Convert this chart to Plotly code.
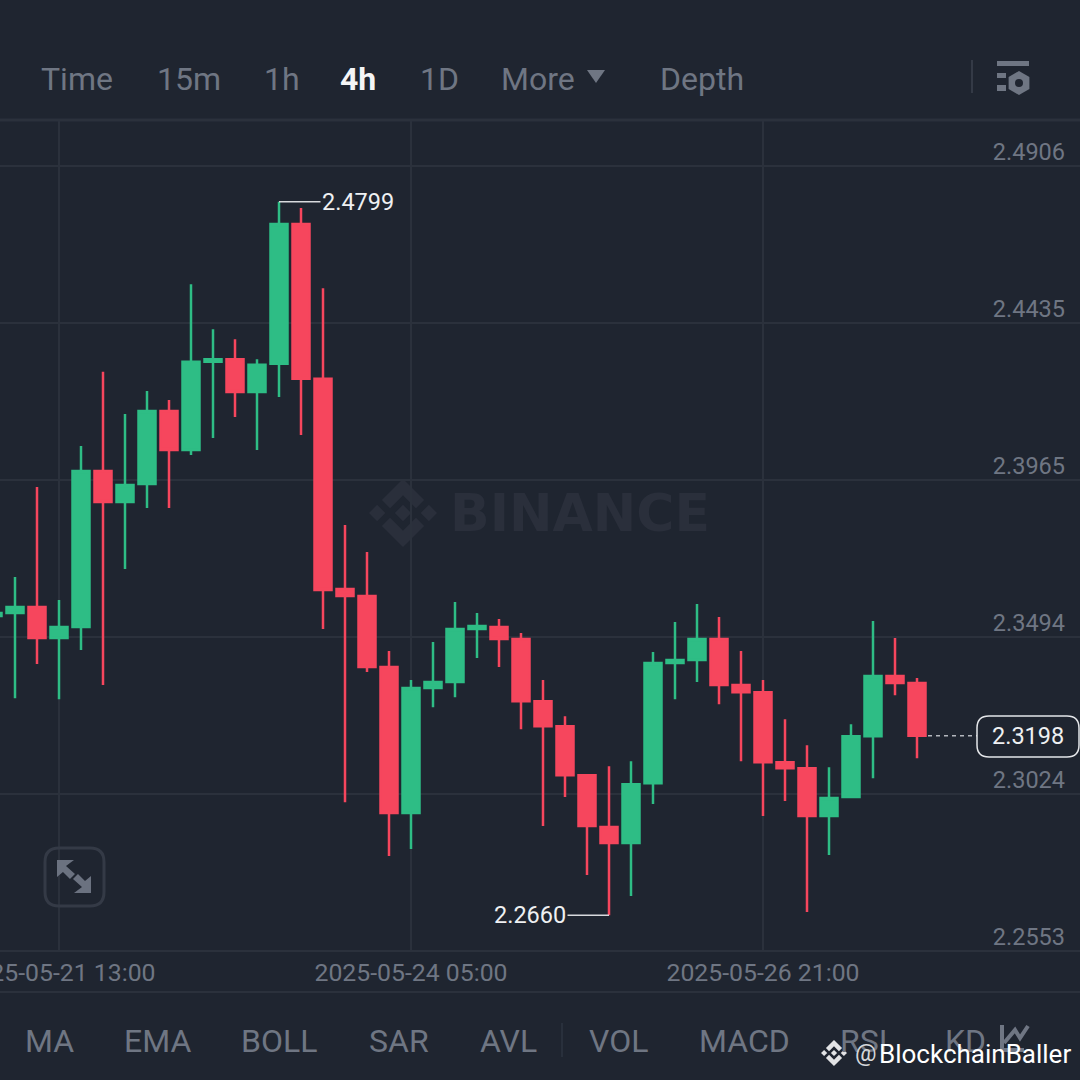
import math
import pandas as pd
import plotly.graph_objects as go

BG = "#1f2530"
GRID = "#2b313c"
MUTED = "#6f7683"
GREEN = "#2ebd85"
RED = "#f6465d"
WATER = "#2a2f3b"
FONT = "Roboto"

dates = pd.date_range("2025-05-21 01:00", periods=43, freq="4h")

opens = [2.3557, 2.3566, 2.3584, 2.3491, 2.3524, 2.3992, 2.3899, 2.3953, 2.4172, 2.4055, 2.4319,
         2.4327, 2.4229, 2.4313, 2.4732, 2.4268, 2.3638, 2.3617, 2.3404, 2.2967, 2.3341, 2.3359,
         2.3518, 2.3524, 2.3488, 2.3302, 2.3227, 2.3080, 2.2925, 2.2877, 2.3056, 2.3416, 2.3425,
         2.3488, 2.3350, 2.3329, 2.3119, 2.3101, 2.2958, 2.3015, 2.3197, 2.3377, 2.3356]
highs = [2.3569, 2.3674, 2.3944, 2.3605, 2.4067, 2.4289, 2.4163, 2.4232, 2.4205, 2.4552, 2.4417,
         2.4387, 2.4327, 2.4799, 2.4780, 2.4540, 2.3830, 2.3749, 2.3452, 2.3365, 2.3479, 2.3599,
         2.3566, 2.3548, 2.3506, 2.3365, 2.3257, 2.3080, 2.3107, 2.3122, 2.3449, 2.3539, 2.3593,
         2.3554, 2.3452, 2.3365, 2.3248, 2.3170, 2.3104, 2.3233, 2.3542, 2.3491, 2.3371]
lows = [2.3554, 2.3311, 2.3413, 2.3308, 2.3455, 2.3350, 2.3698, 2.3881, 2.3881, 2.4040, 2.4091,
        2.4154, 2.4055, 2.4214, 2.4100, 2.3518, 2.2999, 2.3389, 2.2838, 2.2859, 2.3284, 2.3314,
        2.3431, 2.3404, 2.3218, 2.2928, 2.3015, 2.2781, 2.2660, 2.2718, 2.2994, 2.3308, 2.3359,
        2.3293, 2.3122, 2.2958, 2.3003, 2.2670, 2.2841, 2.3015, 2.3071, 2.3320, 2.3131]
closes = [2.3566, 2.3584, 2.3491, 2.3524, 2.3992, 2.3899, 2.3950, 2.4172, 2.4055, 2.4319, 2.4327,
          2.4229, 2.4310, 2.4732, 2.4268, 2.3635, 2.3617, 2.3404, 2.2967, 2.3341, 2.3359, 2.3518,
          2.3527, 2.3488, 2.3302, 2.3227, 2.3080, 2.2928, 2.2877, 2.3053, 2.3416, 2.3425, 2.3488,
          2.3350, 2.3329, 2.3119, 2.3101, 2.2958, 2.3012, 2.3197, 2.3377, 2.3356, 2.3198]

price_ticks = [2.4906, 2.4435, 2.3965, 2.3494, 2.3024, 2.2553]
time_ticks = ["2025-05-21 13:00", "2025-05-24 05:00", "2025-05-26 21:00"]

top_tabs = ["Time", "15m", "1h", "4h", "1D", "More", "Depth"]
top_tab_x = [41, 157, 264, 340, 420, 501, 660]
bottom_tabs = ["MA", "EMA", "BOLL", "SAR", "AVL", "VOL", "MACD", "RSI", "KD"]
bottom_tab_x = [25, 124, 241, 369, 480, 589, 699, 840, 945]


def px(x):
    return x / 1080


def py(y):
    return 1 - y / 1080


def poly(points):
    return "M" + " L".join(f"{px(x):.5f},{py(y):.5f}" for x, y in points) + " Z"


def rounded(x0, y0, x1, y1, r):
    return (f"M{px(x0 + r)},{py(y0)} L{px(x1 - r)},{py(y0)} Q{px(x1)},{py(y0)} {px(x1)},{py(y0 + r)} "
            f"L{px(x1)},{py(y1 - r)} Q{px(x1)},{py(y1)} {px(x1 - r)},{py(y1)} "
            f"L{px(x0 + r)},{py(y1)} Q{px(x0)},{py(y1)} {px(x0)},{py(y1 - r)} "
            f"L{px(x0)},{py(y0 + r)} Q{px(x0)},{py(y0)} {px(x0 + r)},{py(y0)} Z")


def add_poly(fig, points, color, layer="above"):
    fig.add_shape(type="path", xref="paper", yref="paper", path=poly(points), fillcolor=color,
                  line_width=0, layer=layer)


def add_line(fig, x0, y0, x1, y1, color, width=1.5):
    fig.add_shape(type="line", xref="paper", yref="paper", x0=px(x0), y0=py(y0), x1=px(x1), y1=py(y1),
                  line=dict(color=color, width=width))


def add_text(fig, text, x, y, size, color, anchor="left", family=FONT, bold=False):
    fig.add_annotation(text=f"<b>{text}</b>" if bold else text, xref="paper", yref="paper",
                       x=px(x), y=py(y), xanchor=anchor, yanchor="middle", showarrow=False,
                       borderpad=0, borderwidth=0, font=dict(family=family, size=size, color=color))


def add_logo(fig, cx, cy, r, color, layer="above"):
    parts = [
        [(0, -.24), (.24, 0), (0, .24), (-.24, 0)],
        [(-1, 0), (-.76, -.24), (-.52, 0), (-.76, .24)],
        [(1, 0), (.76, -.24), (.52, 0), (.76, .24)],
        [(0, -1), (.62, -.38), (.38, -.14), (0, -.52), (-.38, -.14), (-.62, -.38)],
        [(0, 1), (.62, .38), (.38, .14), (0, .52), (-.38, .14), (-.62, .38)],
    ]
    for part in parts:
        add_poly(fig, [(cx + a * r, cy + b * r) for a, b in part], color, layer)


fig = go.Figure(go.Candlestick(
    x=dates, open=opens, high=highs, low=lows, close=closes, whiskerwidth=0,
    increasing=dict(line=dict(color=GREEN, width=2.5), fillcolor=GREEN),
    decreasing=dict(line=dict(color=RED, width=2.5), fillcolor=RED),
))

# 22px per 4h candle, 2025-05-21 13:00 sits at x=59
x_start = pd.Timestamp("2025-05-21 13:00") - pd.Timedelta(hours=59 / 22 * 4)
x_end = pd.Timestamp("2025-05-21 13:00") + pd.Timedelta(hours=1021 / 22 * 4)

fig.update_layout(
    width=1080, height=1080, margin=dict(l=0, r=0, t=0, b=0, pad=0),
    paper_bgcolor=BG, plot_bgcolor=BG, showlegend=False, boxgap=0.227, boxgroupgap=0,
    xaxis=dict(
        automargin=False, range=[x_start, x_end], rangeslider=dict(visible=False), type="date",
        tickmode="array", tickvals=time_ticks, ticktext=time_ticks, ticklabeloverflow="allow",
        ticklabelstandoff=4,
        showgrid=True, gridcolor=GRID, gridwidth=1.5, zeroline=False, showline=False, ticks="",
        tickfont=dict(family=FONT, size=24.8, color=MUTED),
    ),
    yaxis=dict(
        automargin=False, domain=[(1080 - 951) / 1080, (1080 - 120) / 1080], range=[2.2553, 2.5044],
        side="right", tickmode="array", tickvals=price_ticks, ticktext=[f"{v:.4f}" for v in price_ticks],
        ticklabelposition="inside", ticklabeloverflow="allow", ticklabelshift=-14, ticklabelstandoff=12,
        showgrid=True, gridcolor=GRID, gridwidth=1.5, zeroline=False, showline=False, ticks="",
        tickfont=dict(family=FONT, size=23.5, color=MUTED),
    ),
)

# panel separators
add_line(fig, 0, 120, 1080, 120, "#2b313c", 3)
add_line(fig, 0, 951, 1080, 951, "#2b313c", 2)
add_line(fig, 0, 992, 1080, 992, "#2b313c", 2)
add_line(fig, 972, 60, 972, 93, "#343a46", 2)
add_line(fig, 562, 1023, 562, 1057, "#2e3440", 1.5)

# top and bottom tabs
for name, x in zip(top_tabs, top_tab_x):
    if name == "4h":
        add_text(fig, name, x, 79, 32, "#f4f5f6", bold=True)
    else:
        add_text(fig, name, x, 79, 32, MUTED)
for name, x in zip(bottom_tabs, bottom_tab_x):
    add_text(fig, name, x, 1041, 32, MUTED)
add_poly(fig, [(587, 70), (605, 70), (596, 83)], MUTED)

# settings icon
add_poly(fig, [(997, 61), (1029, 61), (1029, 66), (997, 66)], MUTED)
add_poly(fig, [(997, 73), (1006, 73), (1006, 78), (997, 78)], MUTED)
add_poly(fig, [(997, 85), (1006, 85), (1006, 91), (997, 91)], MUTED)
add_poly(fig, [(1019 + 12 * math.cos(math.radians(90 + 60 * i)), 83 + 12 * math.sin(math.radians(90 + 60 * i)))
               for i in range(6)], MUTED)
fig.add_shape(type="circle", xref="paper", yref="paper", x0=px(1015), x1=px(1023), y0=py(87), y1=py(79),
              fillcolor=BG, line_width=0)

# expand button
fig.add_shape(type="path", xref="paper", yref="paper", path=rounded(45, 848, 104, 906, 14),
              line=dict(color="#343a46", width=3), fillcolor="rgba(0,0,0,0)")
add_poly(fig, [(57, 860), (74, 860), (66, 866), (75, 874), (70, 879), (63, 872), (57, 877)], "#6b7280")
add_poly(fig, [(91, 893), (74, 893), (82, 887), (73, 879), (78, 874), (85, 881), (91, 876)], "#6b7280")

# chart watermark
add_logo(fig, 403, 513, 34, WATER, "below")
add_text(fig, "BINANCE", 450, 513, 52, WATER, family="DejaVu Sans", bold=True)

# highest and lowest labels
hi = highs.index(max(highs))
lo = lows.index(min(lows))
fig.add_annotation(x=dates[hi], y=highs[hi], text=f"{highs[hi]:.4f}", ax=79, ay=0, showarrow=True,
                   arrowhead=0, arrowwidth=1.5, arrowcolor="#d8dadd",
                   font=dict(family=FONT, size=23.5, color="#eef0f2"))
fig.add_annotation(x=dates[lo], y=lows[lo], text=f"{lows[lo]:.4f}", ax=-79, ay=0, showarrow=True,
                   arrowhead=0, arrowwidth=1.5, arrowcolor="#d8dadd",
                   font=dict(family=FONT, size=23.5, color="#eef0f2"))

# last price tag
last = closes[-1]
fig.add_shape(type="line", xref="paper", yref="y", x0=px(928), x1=px(977), y0=last, y1=last,
              line=dict(color="#b4b7bd", width=1.5, dash="4px,4px"))
fig.add_shape(type="path", xref="paper", yref="paper", path=rounded(977, 716, 1079, 757, 12),
              line=dict(color="#e4e6e9", width=1.5), fillcolor=BG)
fig.add_annotation(xref="paper", yref="y", x=px(1028), y=last, xanchor="center", text=f"{last:.4f}",
                   showarrow=False, font=dict(family=FONT, size=23.5, color="#eef0f2"))

# bottom right icon and the author's stamp
fig.add_shape(type="path", xref="paper", yref="paper",
              path=f"M{px(1002)},{py(1025)} L{px(1002)},{py(1050)} L{px(1024)},{py(1050)}",
              line=dict(color=MUTED, width=4), fillcolor="rgba(0,0,0,0)")
fig.add_shape(type="path", xref="paper", yref="paper",
              path=f"M{px(1004)},{py(1043)} L{px(1015)},{py(1030)} L{px(1020)},{py(1038)} L{px(1028)},{py(1026)}",
              line=dict(color=MUTED, width=4), fillcolor="rgba(0,0,0,0)")
add_logo(fig, 834, 1053, 13, "#e2e3e5")
add_text(fig, "@", 855, 1053, 24, "#d5d7da")
add_text(fig, "BlockchainBaller", 879, 1054, 26, "#ffffff")

fig.write_html("out.html", config=dict(displayModeBar=False),
               post_script="document.body.style.margin='0';document.body.style.overflow='hidden';")
